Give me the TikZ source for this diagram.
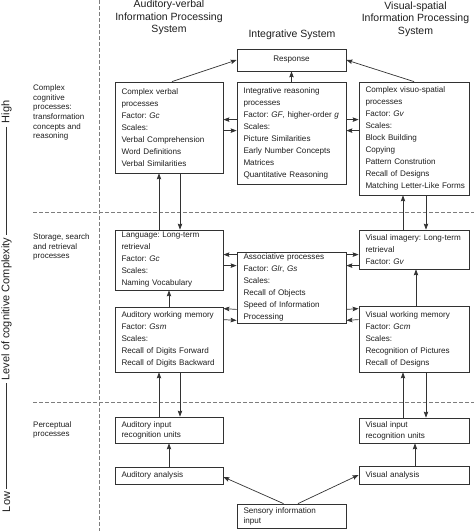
\documentclass[tikz,border=0pt]{standalone}
\usepackage{fontspec}
\setmainfont{Liberation Sans}
\usetikzlibrary{arrows.meta}
\definecolor{box_line}{RGB}{50,50,50}
\definecolor{dash_gray}{RGB}{125,125,125}
\definecolor{txt_gray}{RGB}{30,30,30}
\frenchspacing
\begin{document}
\begin{tikzpicture}[x=1pt,y=-1pt,>={Stealth[length=6pt,width=4.5pt,inset=1pt]}]
    \tikzstyle{proc}=[draw=box_line, rectangle, line width=0.8pt, text=txt_gray, align=left, inner xsep=6.5pt, inner ysep=0pt, font=\fontsize{8.1}{12}\selectfont]
    \tikzstyle{procL}=[style=proc, text width=95pt]
    \tikzstyle{procM}=[style=proc, text width=96pt]
    \tikzstyle{procR}=[style=proc, text width=97pt]
    \tikzstyle{level}=[anchor=west, align=left, inner sep=0pt, text=txt_gray, font=\fontsize{8}{9.7}\selectfont]
    \tikzstyle{system}=[align=center, inner sep=0pt, text=txt_gray, font=\fontsize{10.5}{12.5}\selectfont]
    \tikzstyle{axis}=[rotate=90, inner sep=3pt, text=txt_gray, font=\fontsize{11}{13}\selectfont]
    \tikzstyle{divider}=[draw=dash_gray, line width=0.9pt, dash pattern=on 3.5pt off 2.5pt]

    \useasboundingbox (0,0) rectangle (474,531);

    \draw[divider] (99,0) -- (99,531);
    \draw[divider] (33,212) -- (474,212);
    \draw[divider] (33,402) -- (474,402);

    \node[axis] (ax_high) at (6.5,112) {High};
    \node[axis] (ax_mid)  at (6.5,309) {Level of cognitive Complexity};
    \node[axis] (ax_low)  at (6.5,502) {Low};
    \draw[box_line, line width=0.7pt] (ax_high) -- (ax_mid) (ax_mid) -- (ax_low);

    \node[level] (lv_high) at (33,112.5) {Complex\\cognitive\\processes:\\transformation\\concepts and\\reasoning};
    \node[level] (lv_mid)  at (33,247)   {Storage, search\\and retrieval\\processes};
    \node[level] (lv_low)  at (33,430)   {Perceptual\\processes};

    \node[system] (t_aud) at (169,17.5) {Auditory-verbal\\Information Processing\\System};
    \node[system] (t_int) at (292,35)   {Integrative System};
    \node[system] (t_vis) at (415.5,19) {Visual-spatial\\Information Processing\\System};

    \node[procL, minimum height=91pt]  (cvp)    at (169,127.5) {Complex verbal\\processes\\Factor: \textit{Gc}\\Scales:\\Verbal Comprehension\\Word Definitions\\Verbal Similarities};
    \node[procL, minimum height=60pt]  (lang)   at (169,260)   {Language: Long-term\\retrieval\\Factor: \textit{Gc}\\Scales:\\Naming Vocabulary};
    \node[procL, minimum height=65pt]  (awm)    at (169,339.5) {Auditory working memory\\Factor: \textit{Gsm}\\Scales:\\Recall of Digits Forward\\Recall of Digits Backward};
    \node[procL, minimum height=26pt]  (aud_in) at (169,430)   {Auditory input\\[-2pt]recognition units};
    \node[procL, minimum height=17pt]  (aud_an) at (169,475.5) {Auditory analysis};

    \node[procM, align=center, minimum height=22pt] (resp) at (291.5,60) {Response};
    \node[procM, minimum height=102pt] (irp)    at (291.5,133)   {Integrative reasoning\\processes\\\mbox{Factor: \textit{GF}, higher-order \textit{g}}\\Scales:\\Picture Similarities\\Early Number Concepts\\Matrices\\Quantitative Reasoning};
    \node[procM, minimum height=71pt]  (assoc)  at (291.5,287.5) {Associative processes\\Factor: \textit{Glr}, \textit{Gs}\\Scales:\\Recall of Objects\\Speed of Information\\Processing};
    \node[procM, minimum height=24pt]  (sens)   at (291.5,516)   {Sensory information\\[-2pt]input};

    \node[procR, minimum height=113pt] (cvs)    at (414,138.5) {Complex visuo-spatial\\processes\\Factor: \textit{Gv}\\Scales:\\Block Building\\Copying\\Pattern Constrution\\Recall of Designs\\\mbox{Matching Letter-Like Forms}};
    \node[procR, minimum height=39pt]  (vimg)   at (414,249.5) {Visual imagery: Long-term\\retrieval\\Factor: \textit{Gv}};
    \node[procR, minimum height=66pt]  (vwm)    at (414,339)   {Visual working memory\\Factor: \textit{Gcm}\\Scales:\\Recognition of Pictures\\Recall of Designs};
    \node[procR, minimum height=25pt]  (vis_in) at (414,430.5) {Visual input\\[-1pt]recognition units};
    \node[procR, minimum height=18pt]  (vis_an) at (414,475)   {Visual analysis};

    \path[->, every edge/.style={draw, box_line, line width=0.7pt}]
     (irp.north) edge (resp.south)
     ([xshift=3pt]cvp.north) edge (resp.west)
     (cvs.north) edge (resp.east)
     ([yshift=-38pt]irp.north west) edge ([yshift=-38pt]cvp.north east)
     ([yshift=-49pt]cvp.north east) edge ([yshift=-49pt]irp.north west)
     ([yshift=-38pt]irp.north east) edge ([yshift=-38pt]cvs.north west)
     ([yshift=-49pt]cvs.north west) edge ([yshift=-49pt]irp.north east)
     ([yshift=-3pt]assoc.north west) edge ([yshift=-25pt]lang.north east)
     ([yshift=-36pt]lang.north east) edge ([yshift=-14pt]assoc.north west)
     ([yshift=14pt]assoc.south west) edge ([yshift=-2pt]awm.north east)
     ([yshift=-13pt]awm.north east) edge ([yshift=3pt]assoc.south west)
     ([yshift=-3pt]assoc.north east) edge ([yshift=-25pt]vimg.north west)
     ([yshift=-36pt]vimg.north west) edge ([yshift=-14pt]assoc.north east)
     ([yshift=14pt]assoc.south east) edge ([yshift=-3pt]vwm.north west)
     ([yshift=-14pt]vwm.north west) edge ([yshift=3pt]assoc.south east)
     ([xshift=-10pt]lang.north) edge ([xshift=-10pt]cvp.south)
     ([xshift=11pt]cvp.south) edge ([xshift=11pt]lang.north)
     (awm.north) edge (lang.south)
     ([xshift=-10pt]aud_in.north) edge ([xshift=-10pt]awm.south)
     ([xshift=11pt]awm.south) edge ([xshift=11pt]aud_in.north)
     (aud_an.north) edge (aud_in.south)
     ([xshift=-11pt]vimg.north) edge ([xshift=-11pt]cvs.south)
     ([xshift=12pt]cvs.south) edge ([xshift=12pt]vimg.north)
     ([xshift=2pt]vwm.north) edge ([xshift=2pt]vimg.south)
     ([xshift=-11pt]vis_in.north) edge ([xshift=-11pt]vwm.south)
     ([xshift=12pt]vwm.south) edge ([xshift=12pt]vis_in.north)
     ([xshift=1pt]vis_an.north) edge ([xshift=1pt]vis_in.south)
     ([xshift=-8pt]sens.north) edge ([yshift=-1.5pt]aud_an.east)
     ([xshift=6.5pt]sens.north) edge (vis_an.west);
\end{tikzpicture}
\end{document}
